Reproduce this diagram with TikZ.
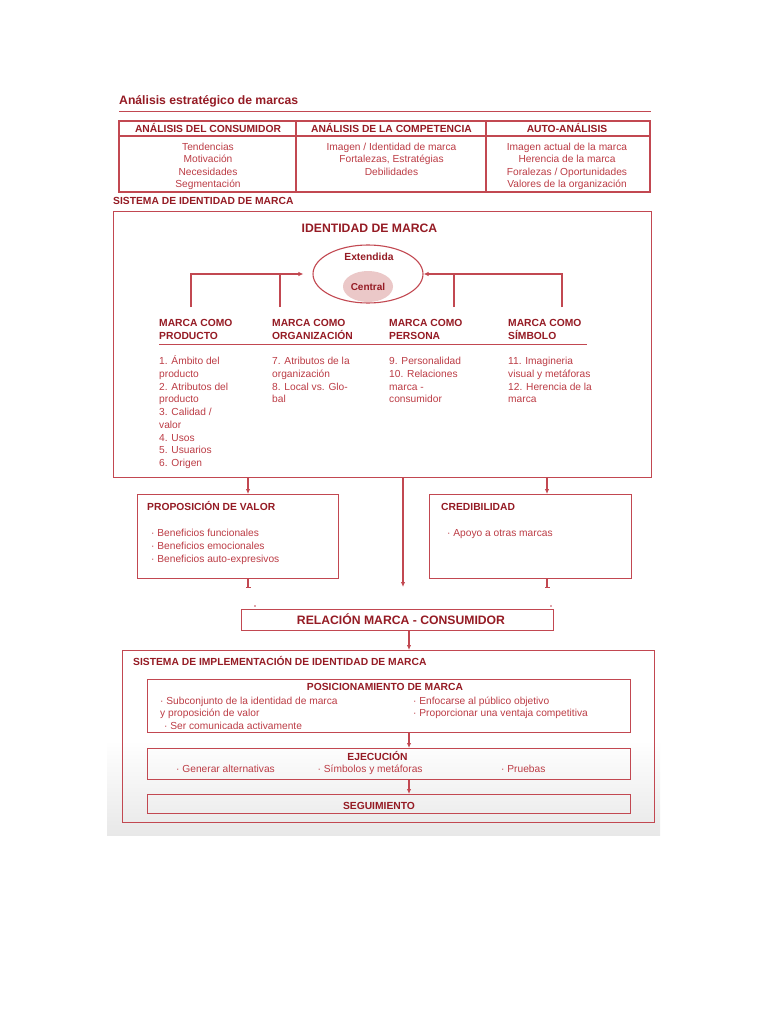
\documentclass[tikz,border=0pt]{standalone}
\usepackage{fontspec}
\setmainfont{Liberation Sans}
\usetikzlibrary{arrows.meta,shapes.geometric}
\definecolor{rojo}{HTML}{BC3C45}
\definecolor{granate}{HTML}{951B24}
\definecolor{linea}{HTML}{C24851}
\definecolor{rosa}{HTML}{EBC8C8}

\begin{document}
\begin{tikzpicture}[x=1pt,y=-1pt,
    caja/.style={draw=linea, line width=1.1pt, inner sep=0pt, anchor=north west},
    tit/.style={text=granate, font=\fontsize{10.3}{12.5}\selectfont\bfseries, inner sep=0pt, align=left},
    grande/.style={text=granate, font=\fontsize{12.2}{14}\selectfont\bfseries, inner sep=0pt},
    txt/.style={text=rojo, font=\fontsize{10.2}{12.75}\selectfont, inner sep=0pt, align=left},
    flecha/.style={draw=linea, line width=1.1pt, -{Latex[length=5pt,width=4.5pt]}},
    tope/.style={draw=linea, line width=1.1pt, -{Bar[width=5pt]}}]
    \useasboundingbox (0,0) rectangle (768,1024);
    \fill[white] (0,0) rectangle (768,1024);
    \shade[top color=white, bottom color=black!9] (107,740) rectangle (660,835);

    \node[grande, anchor=base west] (titulo) at (119,104.5) {Análisis estratégico de marcas};
    \draw[linea, line width=0.6pt] (119,111) -- (651,111);
    \draw[linea, line width=1.1pt] (119,121) rectangle (650,192);
    \draw[linea, line width=1.1pt] (119,136) -- (650,136) (296,121) -- (296,192) (486,121) -- (486,192);
    \node[tit, anchor=base] (hCons) at (208,133) {ANÁLISIS DEL CONSUMIDOR};
    \node[tit, anchor=base] (hComp) at (391.5,133) {ANÁLISIS DE LA COMPETENCIA};
    \node[tit, anchor=base] (hAuto) at (567,133) {AUTO-ANÁLISIS};
    \node[txt, align=center, anchor=base, font=\fontsize{10.2}{12.4}\selectfont] (bCons) at (208,187.7) {Tendencias\\Motivación\\Necesidades\\Segmentación};
    \node[txt, align=center, anchor=base, font=\fontsize{10.2}{12.4}\selectfont] (bComp) at (391.5,175.3) {Imagen / Identidad de marca\\Fortalezas, Estratégias\\Debilidades};
    \node[txt, align=center, anchor=base, font=\fontsize{10.2}{12.4}\selectfont] (bAuto) at (567,187.7) {Imagen actual de la marca\\Herencia de la marca\\Foralezas / Oportunidades\\Valores de la organización};

    \node[tit, anchor=base west] (tSid) at (113,204.7) {SISTEMA DE IDENTIDAD DE MARCA};
    \node[caja, minimum width=538, minimum height=266] (sid) at (113,211) {};
    \node[grande, anchor=base] (tIdent) at (369.5,232.5) {IDENTIDAD DE MARCA};
    \node[ellipse, draw=linea, line width=1.1pt, minimum width=110, minimum height=58, inner sep=0pt] (ext) at (368,274) {};
    \node[tit, anchor=base] (tExt) at (369,260.5) {Extendida};
    \node[ellipse, fill=rosa, minimum width=50, minimum height=31, inner sep=0pt, text=granate, font=\fontsize{10}{12}\selectfont\bfseries] (cen) at (368,286.5) {Central};

    \node[tit, anchor=base west] (mProd) at (159,339) {MARCA COMO\\PRODUCTO};
    \node[tit, anchor=base west] (mOrg) at (272,339) {MARCA COMO\\ORGANIZACIÓN};
    \node[tit, anchor=base west] (mPer) at (389,339) {MARCA COMO\\PERSONA};
    \node[tit, anchor=base west] (mSim) at (508,339) {MARCA COMO\\SÍMBOLO};
    \draw[linea, line width=0.6pt] (159,344) -- (587,344);
    \node[txt, anchor=base west] (lProd) at (159,466.5) {1. Ámbito del\\producto\\2. Atributos del\\producto\\3. Calidad /\\valor\\4. Usos\\5. Usuarios\\6. Origen};
    \node[txt, anchor=base west] (lOrg) at (272,402.75) {7. Atributos de la\\organización\\8. Local vs. Glo-\\bal};
    \node[txt, anchor=base west] (lPer) at (389,402.75) {9. Personalidad\\10. Relaciones\\marca -\\consumidor};
    \node[txt, anchor=base west] (lSim) at (508,402.75) {11. Imagineria\\visual y metáforas\\12. Herencia de la\\marca};

    \coordinate (pProd) at (191,307);
    \coordinate (pOrg) at (280,307);
    \coordinate (pPer) at (454,307);
    \coordinate (pSim) at (562,307);
    \draw[flecha, shorten >=9pt] (pProd) |- (ext.west);
    \draw[linea, line width=1.1pt] (pOrg) -- (pOrg |- ext.west);
    \draw[flecha] (pSim) |- (ext.east);
    \draw[linea, line width=1.1pt] (pPer) -- (pPer |- ext.east);

    \node[caja, minimum width=201, minimum height=84] (prop) at (137,494) {};
    \node[caja, minimum width=202, minimum height=84] (cred) at (429,494) {};
    \node[tit, anchor=base west] (tProp) at (147,510.7) {PROPOSICIÓN DE VALOR};
    \node[txt, anchor=base west, font=\fontsize{10.2}{13}\selectfont] (lProp) at (151,562.5) {· Beneficios funcionales\\· Beneficios emocionales\\· Beneficios auto-expresivos};
    \node[tit, anchor=base west] (tCred) at (441,510.7) {CREDIBILIDAD};
    \node[txt, anchor=base west] (lCred) at (447,536.5) {· Apoyo a otras marcas};

    \coordinate (xP) at (248,0);
    \coordinate (xC) at (547,0);
    \coordinate (xR) at (409,0);
    \coordinate (fin) at (403,587);
    \draw[flecha] (sid.south -| xP) -- (prop.north -| xP);
    \draw[flecha] (sid.south -| fin) -- (fin);
    \draw[flecha] (sid.south -| xC) -- (cred.north -| xC);
    \draw[tope] (prop.south -| xP) -- ++(0,9);
    \draw[tope] (cred.south -| xC) -- ++(0,9);
    \fill[linea] (255,606) circle (0.9);
    \fill[linea] (551,606) circle (0.9);

    \node[caja, minimum width=312, minimum height=21] (rel) at (241,609) {};
    \node[grande, anchor=base] (tRel) at (401,624.4) {RELACIÓN MARCA - CONSUMIDOR};

    \node[caja, minimum width=532, minimum height=172] (impl) at (122,650) {};
    \draw[flecha] (rel.south -| xR) -- (impl.north -| xR);
    \node[tit, anchor=base west] (tImpl) at (133,665.5) {SISTEMA DE IMPLEMENTACIÓN DE IDENTIDAD DE MARCA};

    \node[caja, minimum width=483, minimum height=53] (pos) at (147,679) {};
    \node[tit, anchor=base] (tPos) at (385,690.7) {POSICIONAMIENTO DE MARCA};
    \node[txt, anchor=base west, font=\fontsize{10.2}{12.3}\selectfont] (lPos) at (160,716.8) {· Subconjunto de la identidad de marca\\y proposición de valor};
    \node[txt, anchor=base west] (lCom) at (164,729.5) {· Ser comunicada activamente};
    \node[txt, anchor=base west, font=\fontsize{10.2}{12.3}\selectfont] (rPos) at (413,716.8) {· Enfocarse al público objetivo\\· Proporcionar una ventaja competitiva};

    \node[caja, minimum width=483, minimum height=31] (eje) at (147,748) {};
    \draw[flecha] (pos.south -| xR) -- (eje.north -| xR);
    \node[tit, anchor=base] (tEje) at (377.5,760.7) {EJECUCIÓN};
    \node[txt, anchor=base west] (e1) at (176,772.5) {· Generar alternativas};
    \node[txt, anchor=base west] (e2) at (317.5,772.5) {· Símbolos y metáforas};
    \node[txt, anchor=base west] (e3) at (501,772.5) {· Pruebas};

    \node[caja, minimum width=483, minimum height=19] (seg) at (147,794) {};
    \draw[flecha] (eje.south -| xR) -- (seg.north -| xR);
    \node[tit, anchor=base] (tSeg) at (379,809.7) {SEGUIMIENTO};
\end{tikzpicture}
\end{document}
